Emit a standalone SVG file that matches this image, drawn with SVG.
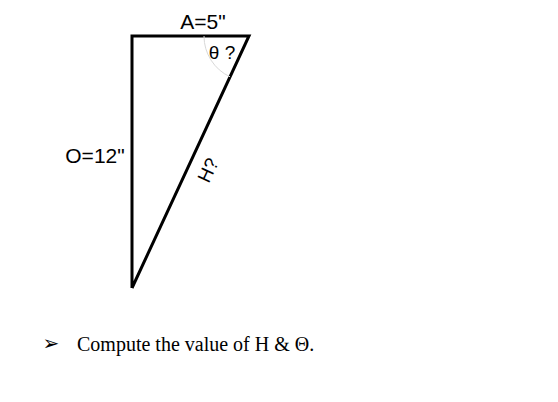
<svg xmlns="http://www.w3.org/2000/svg" width="558" height="402" viewBox="0 0 558 402">
<style>
.lbl{font-family:"Liberation Sans",Arial,sans-serif;fill:#000}
.body{font-family:"Liberation Serif","Times New Roman",serif;fill:#000}
</style>
<rect width="558" height="402" fill="#fff"/>
<g id="triangle">
<path d="M132,288 L132,36 L249,36 L132,288" fill="none" stroke="#000" stroke-width="3" stroke-linejoin="miter" stroke-miterlimit="10"/>
<path d="M204,36 A45,45 0 0 0 230.05,76.8" fill="none" stroke="#d8d8d8" stroke-width="1"/>
</g>
<g id="labels">
<text class="lbl" x="203" y="29" font-size="21" text-anchor="middle">A=5"</text>
<text class="lbl" x="222" y="59" font-size="19" text-anchor="middle">θ ?</text>
<text class="lbl" x="95" y="163" font-size="21" text-anchor="middle">O=12"</text>
<text class="lbl" x="0" y="0" font-size="19" text-anchor="middle" transform="translate(214,173) rotate(-65)">H?</text>
</g>
<g id="question">
<text x="51" y="350" font-size="20" font-family="DejaVu Sans,sans-serif" text-anchor="middle">➢</text>
<text class="body" x="77" y="351" font-size="20">Compute the value of H &amp; Θ.</text>
</g>
</svg>
